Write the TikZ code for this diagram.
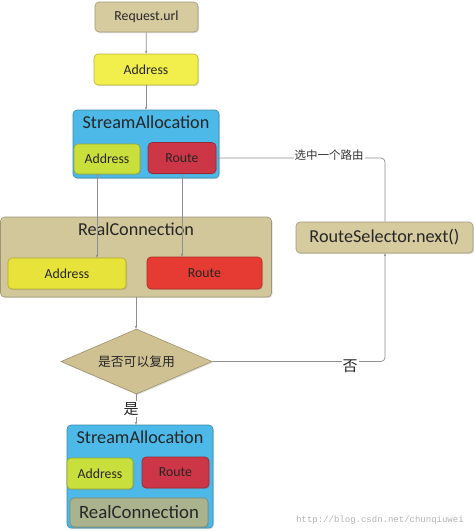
\documentclass[tikz,border=0pt]{standalone}
\usepackage{fontspec}
\setmainfont{Carlito}
\newfontfamily\cjk{Noto Sans CJK SC}
\newfontfamily\wmfont{Liberation Mono}
\usetikzlibrary{shapes.geometric,arrows.meta,shadows}
\definecolor{tanA}{HTML}{D6CB9F}
\definecolor{tanB}{HTML}{D2C79A}
\definecolor{yelA}{HTML}{F2EF4C}
\definecolor{yelB}{HTML}{E8E33A}
\definecolor{blueA}{HTML}{4CB9E8}
\definecolor{limeA}{HTML}{C9DF3C}
\definecolor{redA}{HTML}{CC3646}
\definecolor{redB}{HTML}{E63B33}
\definecolor{greenA}{HTML}{A9B48E}
\definecolor{diaA}{HTML}{CFC192}
\definecolor{lineC}{HTML}{8E8E8E}
\tikzset{
  box/.style={rectangle, rounded corners=4pt, draw=#1!75!black, line width=0.6pt, fill=#1, inner sep=0pt,
    drop shadow={shadow xshift=1pt, shadow yshift=-1.2pt, opacity=0.25}},
  lbl/.style={font=\fontsize{13.8}{16}\selectfont, text=black!85},
  big/.style={font=\fontsize{18.2}{21}\selectfont, text=black!85},
  arr/.style={draw=lineC, line width=0.7pt, -{Stealth[length=3pt,width=2.5pt]}},
  cn/.style={font=\cjk\fontsize{11.5}{13}\selectfont, fill=white, inner sep=1pt, text=black!80},
  cnb/.style={font=\cjk\fontsize{15}{17}\selectfont, fill=white, inner sep=1pt, text=black!85},
}
\begin{document}
\begin{tikzpicture}[x=1pt,y=-1pt]
\useasboundingbox (0,0) rectangle (474,531);
% top
\node[box=tanA, minimum width=103pt, minimum height=30pt, lbl] (req) at (146.5,17) {Request.url};
\node[box=yelA, minimum width=104pt, minimum height=31pt, lbl] (addr1) at (146,69.5) {Address};
% Stream allocation 1
\node[box=blueA, minimum width=146pt, minimum height=68pt] (sa1) at (146,144) {};
\node[big, inner sep=0pt] (sa1t) at (146,122) {StreamAllocation};
\node[box=limeA, minimum width=66pt, minimum height=30pt, lbl] (sa1a) at (107,159) {Address};
\node[box=redA, minimum width=68pt, minimum height=31pt, lbl] (sa1r) at (182,158) {Route};
% Real connection
\node[box=tanB, minimum width=271pt, minimum height=80pt] (rc) at (136,257) {};
\node[big, inner sep=0pt] (rct) at (136,229) {RealConnection};
\node[box=yelB, minimum width=118pt, minimum height=31pt, lbl] (rca) at (67,273.5) {Address};
\node[box=redB, minimum width=115pt, minimum height=32pt, lbl] (rcr) at (204.5,273) {Route};
% route selector
\node[box=tanA, minimum width=177pt, minimum height=31pt, big] (rs) at (384.5,237.5) {RouteSelector.next()};
% diamond
\node[diamond, draw=diaA!75!black, line width=0.6pt, fill=diaA, minimum width=151pt, minimum height=65pt, aspect=2.3, inner sep=0pt,
  drop shadow={shadow xshift=1pt, shadow yshift=-1.2pt, opacity=0.25}] (dia) at (136.5,361.5) {};
\node[font=\cjk\fontsize{12.8}{14}\selectfont, text=black!85] (diat) at (136.5,361.5) {是否可以复用};
% bottom stream allocation
\node[box=blueA, minimum width=146pt, minimum height=103pt] (sa2) at (140,476.5) {};
\node[big, inner sep=0pt] (sa2t) at (140,437) {StreamAllocation};
\node[box=limeA, minimum width=66pt, minimum height=31pt, lbl] (sa2a) at (100,473.5) {Address};
\node[box=redA, minimum width=67pt, minimum height=31pt, lbl] (sa2r) at (175.5,472.5) {Route};
\node[box=greenA, minimum width=138pt, minimum height=29pt, big, font=\fontsize{18.8}{21}\selectfont] (sa2c) at (139,512.5) {RealConnection};
% watermark
\node[font=\wmfont\fontsize{9}{10}\selectfont, text=black!30] (wm) at (380,520) {http://blog.csdn.net/chunqiuwei};
% connectors
\coordinate (xa) at (97,0);
\coordinate (xr) at (182,0);
\coordinate (xd) at (136,0);
\coordinate (xs) at (385,0);
\draw[arr] (req) -- (addr1);
\draw[arr] (addr1) -- (sa1);
\draw[arr] (sa1a.south -| xa) -- (rca.north -| xa);
\draw[arr] (sa1r.south -| xr) -- (rcr.north -| xr);
\draw[arr] (rc.south -| xd) -- (dia.north -| xd);
\draw[arr, rounded corners=4pt] (dia.east) -- (dia.east -| xs) -- (rs.south -| xs);
\node[cnb] (no) at (350,366) {否};
\draw[arr, rounded corners=4pt] (rs.north -| xs) -- (xs |- sa1r.east) -- (sa1r.east);
\node[cn] (sel) at (329,155) {选中一个路由};
\draw[arr] (dia.south -| xd) -- (sa2.north -| xd);
\node[cnb] (yes) at (131,409) {是};
\end{tikzpicture}
\end{document}
